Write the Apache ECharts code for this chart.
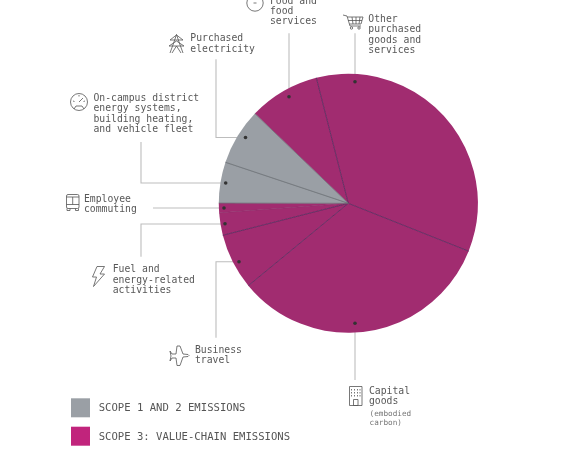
<!DOCTYPE html>
<html><head><meta charset="utf-8">
<style>html,body{margin:0;padding:0;background:#fff}#c{width:562px;height:450px}</style>
<script src="https://cdn.jsdelivr.net/npm/echarts@6/dist/echarts.min.js"></script>
</head><body><div id="c"></div>
<script>
const categories = ['Other purchased goods and services','Capital goods','Business travel','Fuel and energy-related activities','Employee commuting','On-campus district energy systems, building heating, and vehicle fleet','Purchased electricity','Food and food services'];
const values = [35,33,7,2.8,1.2,5.1,7.05,8.85];
const scopes = [3,3,3,3,3,1,1,3];
const legendLabels = ['SCOPE 1 AND 2 EMISSIONS','SCOPE 3: VALUE-CHAIN EMISSIONS'];

const GREY='#9a9fa5', MAG='#a12c70', FONT='"DejaVu Sans Mono","Liberation Mono",monospace';
const C=[348.3,203.3], R=129.5, START=104.3;
const g=[];
const text=(x,y,t,o={})=>g.push({type:'text',z:10,x,y:y+0.5,style:{text:t,fill:o.c||'#585858',font:(o.w||'normal')+' '+(o.s||9.75)+'px '+FONT,textVerticalAlign:'middle',textBaseline:'middle'}});
const block=(x,y,lines,step=10.25,o)=>lines.forEach((l,i)=>text(x,y+i*step,l,o));
const lead=(pts)=>g.push({type:'polyline',z:1,shape:{points:pts},style:{stroke:'#bdbdbd',lineWidth:1.1,fill:null}});
const dot=(x,y)=>g.push({type:'circle',z:9,shape:{cx:x,cy:y,r:1.8},style:{fill:'#333'}});
const S={stroke:'#555',lineWidth:0.8,fill:null};
const pl=(...pts)=>g.push({type:'polyline',z:10,shape:{points:pts},style:S});
const circ=(x,y,r)=>g.push({type:'circle',z:10,shape:{cx:x,cy:y,r},style:S});
const rect=(x,y,w,h,r=0)=>g.push({type:'rect',z:10,shape:{x,y,width:w,height:h,r},style:S});

// dividers derived from the data
let cum=0; const tot=values.reduce((a,b)=>a+b,0);
values.forEach((v,i)=>{
  const a=(START-cum/tot*360)*Math.PI/180;
  const prev=scopes[(i+values.length-1)%values.length], cur=scopes[i];
  let col= (prev===1&&cur===1)?'#5f6469':(prev!==cur?'#6f6f78':'#4f2558');
  if(categories[i].startsWith('Employee')){col='#8f2c69';}
  g.push({type:'line',z:5,shape:{x1:C[0],y1:C[1],x2:C[0]+R*Math.cos(a),y2:C[1]-R*Math.sin(a)},style:{stroke:col,lineWidth:0.8}});
  cum+=v;
});

// labels
block(270,0.6,['Food and','food','services']);
block(368.3,19,['Other','purchased','goods and','services']);
block(190.3,38.3,['Purchased','electricity']);
block(93.5,98,['On-campus district','energy systems,','building heating,','and vehicle fleet']);
block(84,198.8,['Employee','commuting']);
block(112.7,269.3,['Fuel and','energy-related','activities']);
block(195,350,['Business','travel']);
block(369,390.7,['Capital','goods']);
block(369.5,413.7,['(embodied','carbon)'],8.7,{s:7.7,c:'#777'});
// leaders
lead([[289,33.3],[289,92]]);
lead([[355,33.3],[355,78]]);
lead([[216,59.3],[216,137.5],[240,137.5]]);
lead([[141,142],[141,183],[222,183]]);
lead([[153,208],[221,208]]);
lead([[141,256.7],[141,224],[222,224]]);
lead([[216,337.7],[216,261.7],[233,261.7]]);
lead([[355,330],[355,380]]);
[[289,96.7],[355,81.7],[245.5,137.5],[225.7,183],[224,208],[225,223.7],[239,261.7],[355,323.3]].forEach(p=>dot(p[0],p[1]));
// legend
[[GREY,398.3,407.8],['#c1247c',426.7,437.2]].forEach((l,i)=>{
  g.push({type:'rect',z:10,shape:{x:71,y:l[1],width:19,height:19},style:{fill:l[0]}});
  text(98.7,l[2],legendLabels[i],{s:10.6,c:'#555'});
});
// icons
// food
g.push({type:'circle',z:10,shape:{cx:255,cy:3,r:8.2},style:S}); pl([253.5,3],[256.5,3]);
// cart
pl([343,15],[347,16],[350,26],[361,26]); pl([347.5,17],[363,17],[361,24],[349.5,24]); pl([348,20.5],[362,20.5]);
pl([352,17],[353,24]);pl([356,17],[356,24]);pl([360,17],[359,24]);
circ(351.5,28,1.2);circ(359,28,1.2);
// tower
pl([170,53],[174,42],[176.5,34.5],[179,42],[183,53]); pl([170,40],[176.5,35],[183,40],[170,40]);
pl([169,46],[176.5,41],[184,46],[169,46]); pl([172,53],[176.5,46],[181,53]);
// gauge
circ(79,102,8.5); pl([79,102],[83,98]); pl([74,109],[76,106],[82,106],[84,109]); pl([79,95],[79,96.5]);pl([73,101],[74.5,101.5]);pl([85,101],[83.5,101.5]);
// bus
rect(66.5,194.5,12.5,14,1.5); pl([66.5,204.5],[79,204.5]); pl([72.7,197],[72.7,204.5]); pl([66.5,197],[79,197]);
pl([67,208.5],[67,210.5],[70,210.5],[70,208.5]);pl([75.5,208.5],[75.5,210.5],[78.5,210.5],[78.5,208.5]);
// bolt
pl([97,266.5],[104.5,266.5],[100,274],[104.5,274],[93.5,286.5],[96.5,277],[92.5,277],[97,266.5]);
// plane
pl([170,351],[172,354],[176,354],[177,346],[180,346],[183,354],[188,354.5],[189,355.5],[188,356.5],[183,357],[180,365.5],[177,365.5],[176,358],[172,358],[170,361],[171,356],[170,351]);
// building
rect(349.5,386.5,12.5,19); rect(353.5,399.5,4.5,6);
[389,392,395].forEach(y=>[351.5,354.5,357.5,360].forEach(x=>pl([x,y],[x,y+1.5])));

const chart=echarts.init(document.getElementById('c'),null,{renderer:'canvas'});
chart.setOption({
  animation:false,backgroundColor:'#fff',
  series:[{type:'pie',center:C,radius:[0,R],startAngle:START,clockwise:true,silent:true,
    label:{show:false},labelLine:{show:false},emphasis:{disabled:true},
    data:categories.map((n,i)=>({name:n,value:values[i],itemStyle:{color:scopes[i]===1?GREY:MAG}}))}],
  graphic:{elements:g}
});
</script></body></html>
